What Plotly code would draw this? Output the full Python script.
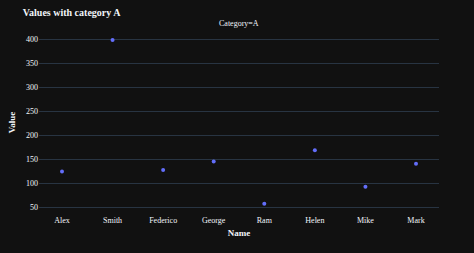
import plotly.graph_objects as go

names = ["Alex", "Smith", "Federico", "George", "Ram", "Helen", "Mike", "Mark"]
values = [125, 399, 128, 146, 58, 169, 93, 141]
category_label = "Category=A"

FONT = "Rockwell, 'Liberation Serif', serif"

fig = go.Figure(go.Scatter(
    x=names, y=values, mode="markers",
    marker=dict(color="#636efa", size=4),
    name="",
))

fig.update_layout(
    template="plotly_dark",
    width=474, height=253,
    margin=dict(l=35, r=35, t=33, b=41),
    font=dict(family=FONT, size=8, color="#f2f5fa"),
    title=dict(text="<b>Values with category A</b>", x=0.048, xanchor="left", y=0.952, yanchor="middle",
               font=dict(size=10, family=FONT)),
    showlegend=False,
    annotations=[dict(text=category_label, x=0.5, y=1.0, xref="paper", yref="paper",
                      xanchor="center", yanchor="bottom", yshift=3, showarrow=False,
                      font=dict(size=8, family=FONT))],
    xaxis=dict(title=dict(text="<b>Name</b>", font=dict(size=9), standoff=5), showgrid=False,
               tickfont=dict(size=8), ticklabelstandoff=2),
    yaxis=dict(title=dict(text="<b>Value</b>", font=dict(size=9), standoff=8), tickfont=dict(size=8),
               gridcolor="#283442", zeroline=False, dtick=50, range=[40.6, 413.5]),
)

fig.write_html("out.html")
